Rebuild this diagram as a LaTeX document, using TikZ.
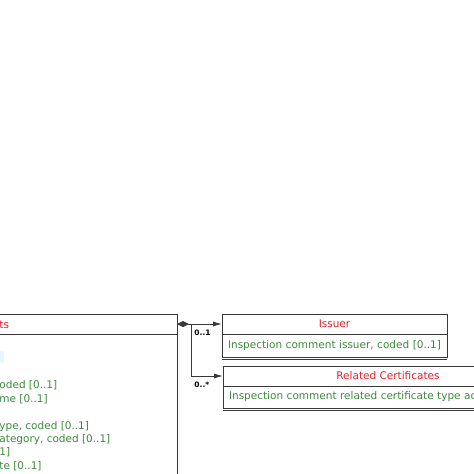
\documentclass[tikz,border=0pt]{standalone}
\usepackage{fontspec}
\setmainfont{DejaVu Sans}
\usetikzlibrary{arrows.meta,positioning}
\definecolor{TitleRed}{HTML}{E4202C}
\definecolor{AttrGreen}{HTML}{3C8A3C}
\definecolor{EdgeGray}{HTML}{383838}
\newcommand{\umlfont}{\fontsize{10.5}{13.4}\selectfont}

\begin{document}
\begin{tikzpicture}[x=1pt,y=-1pt,line width=0.9pt,
  classhead/.style={draw=EdgeGray,fill=white,anchor=north west,inner sep=0pt,outer sep=0pt,
    minimum height=20pt,text=TitleRed,font=\umlfont},
  classbody/.style={draw=EdgeGray,anchor=north west,inner sep=0pt,outer sep=0pt,inner xsep=6pt,
    align=left,text=AttrGreen,font=\umlfont},
  attr/.style={anchor=base west,inner sep=0pt,text=AttrGreen,font=\umlfont},
  mult/.style={anchor=west,inner sep=0pt,text=black,font=\bfseries\fontsize{7.5}{9}\selectfont},
  assoc/.style={draw=EdgeGray,-{Latex[length=9pt,width=5pt]}}]
  \useasboundingbox (0,0) rectangle (474,474);
  \clip (0,0) rectangle (474,474);

  % inspection comments (cut off on the left)
  \node[classhead,minimum width=477pt] (commhead) at (-300,314) {};
  \node[classbody,minimum width=477pt,minimum height=200pt] (commbody) at (commhead.south west) {};
  \node[attr] (commtitle) at (-1,328) {\textcolor{TitleRed}{ts}};
  \fill[cyan!10,rounded corners=2pt] (-6,351) rectangle (4,363);
  \foreach \y/\t in {388/oded [0..1],402/me [0..1],429/{ype, coded [0..1]},
                     442/{ategory, coded [0..1]},455/1],469/{te [0..1]}}
    \node[attr] at (-1,\y) {\t};

  % issuer
  \node[classhead,minimum width=225pt] (issuerhead) at (222,314) {Issuer};
  \node[classbody,text width=213pt,minimum height=23pt] (issuerbody) at (issuerhead.south west)
    {Inspection comment issuer, coded [0..1]};
  \draw[EdgeGray] ([yshift=-2pt]issuerbody.south west) -- ([yshift=-2pt]issuerbody.south east);

  % related certificates
  \node[classhead,minimum width=330pt] (relhead) at (223,366) {Related Certificates};
  \node[classbody,text width=318pt,minimum height=22pt] (relbody) at (relhead.south west)
    {Inspection comment related certificate type ac};
  \draw[EdgeGray] ([yshift=-2pt]relbody.south west) -- ([yshift=-2pt]relbody.south east);

  % aggregations
  \coordinate (split) at (191,324);
  \draw[assoc,{Diamond[length=12pt,width=6pt]}-{Latex[length=9pt,width=5pt]}] (commhead.east) -- (issuerhead.west);
  \draw[assoc] (split) |- (relhead.west);
  \node[mult] (m1) at (194,333) {0..1};
  \node[mult] (m2) at (194,385) {0..*};
\end{tikzpicture}
\end{document}
